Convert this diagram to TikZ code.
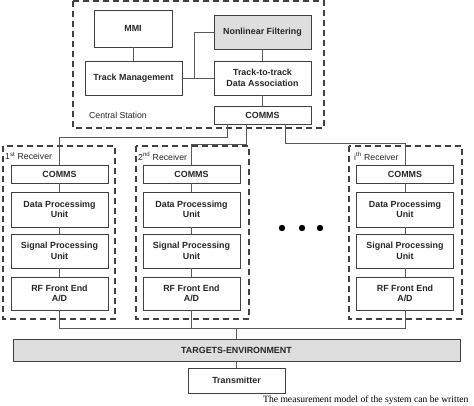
\documentclass[tikz,border=0pt]{standalone}
\usepackage{fontspec}
\setmainfont{Liberation Sans}
\newfontfamily\capserif{Liberation Serif}
\begin{document}
\begin{tikzpicture}[x=1pt,y=-1pt,
  blk/.style={draw=black!75,line width=0.8pt,font=\fontsize{8.9}{10.4}\selectfont\bfseries,align=center,inner sep=0pt,minimum width=97pt,text=black!85},
  grayblk/.style={blk,fill=black!13},
  grp/.style={draw=black!75,line width=1.3pt,dash pattern=on 6pt off 4pt},
  link/.style={draw=black!65,line width=0.7pt},
  lbl/.style={font=\fontsize{8.7}{10}\selectfont,inner sep=0pt,anchor=west,text=black!85}]
\useasboundingbox (0,0) rectangle (474,406);
% central station
\draw[grp] (73,1) rectangle (324,128);
\node[blk,minimum width=78pt,minimum height=37pt] (mmi) at (133,28.5) {MMI};
\node[grayblk,minimum height=34pt] (nf) at (262.5,32) {Nonlinear Filtering};
\node[blk,minimum height=34pt] (tm) at (133.5,78) {Track Management};
\node[blk,minimum height=34pt] (tta) at (262.5,78) {Track-to-track\\Data Association};
\node[blk,minimum height=18pt] (cc) at (262.5,115) {COMMS};
\node[lbl] (cslbl) at (89,115) {Central Station};
\coordinate (jt) at (194,78);
\draw[link] (mmi.south) -- (mmi.south |- tm.north);
\draw[link] (tm.east) -- (tta.west);
\draw[link] (jt) |- (nf.west);
\draw[link] (nf.south) -- (tta.north);
\draw[link] (tta.south) -- (cc.north);
% receivers
\foreach \i/\x/\lx/\bl/\br/\lab in {1/59.5/5/3/115/{1\textsuperscript{st} Receiver},2/191.5/138/136/249/{2\textsuperscript{nd} Receiver},3/405/354/349/462/{i\textsuperscript{th} Receiver}}{
  \draw[grp] (\bl,146) rectangle (\br,319);
  \node[lbl] (rl\i) at (\lx,156) {\lab};
  \node[blk,minimum height=18pt] (rc\i) at (\x,174) {COMMS};
  \node[blk,minimum height=35pt] (rd\i) at (\x,209.5) {Data Processimg\\Unit};
  \node[blk,minimum height=34pt] (rs\i) at (\x,251) {Signal Processing\\Unit};
  \node[blk,minimum height=33pt] (rf\i) at (\x,293.5) {RF Front End\\A/D};
  \draw[link] (rc\i.south) -- (rd\i.north);
  \draw[link] (rd\i.south) -- (rs\i.north);
  \draw[link] (rs\i.south) -- (rf\i.north);
}
% links from central comms
\coordinate (j1) at (227,137);
\coordinate (j2) at (246,144);
\coordinate (j3) at (285,143);
\draw[link] (cc.south -| j1) -- (j1) -| (rc1.north);
\draw[link] (cc.south -| j2) -- (j2) -| (rc2.north);
\draw[link] (cc.south -| j3) -- (j3) -| (rc3.north);
% dots
\foreach \d/\dx in {1/282,2/302,3/320}{
  \fill[black] (\dx,228) circle (3.2pt);
}
% environment
\node[grayblk,minimum width=447pt,minimum height=22pt] (tgt) at (236.5,350) {TARGETS-ENVIRONMENT};
\node[blk,minimum height=25pt] (tx) at (236.5,380.5) {Transmitter};
\coordinate (bus) at (236.5,328);
\draw[link] (rf1.south) |- (bus -| rf3.south) -- (rf3.south);
\draw[link] (rf2.south) -- (rf2.south |- bus);
\draw[link] (bus) -- (tgt.north);
\draw[link] (tgt.south) -- (tx.north);
\node[font=\capserif\fontsize{9.6}{12}\selectfont,inner sep=0pt,anchor=west] (cap) at (263,400) {The measurement model of the system can be written};
\end{tikzpicture}
\end{document}
